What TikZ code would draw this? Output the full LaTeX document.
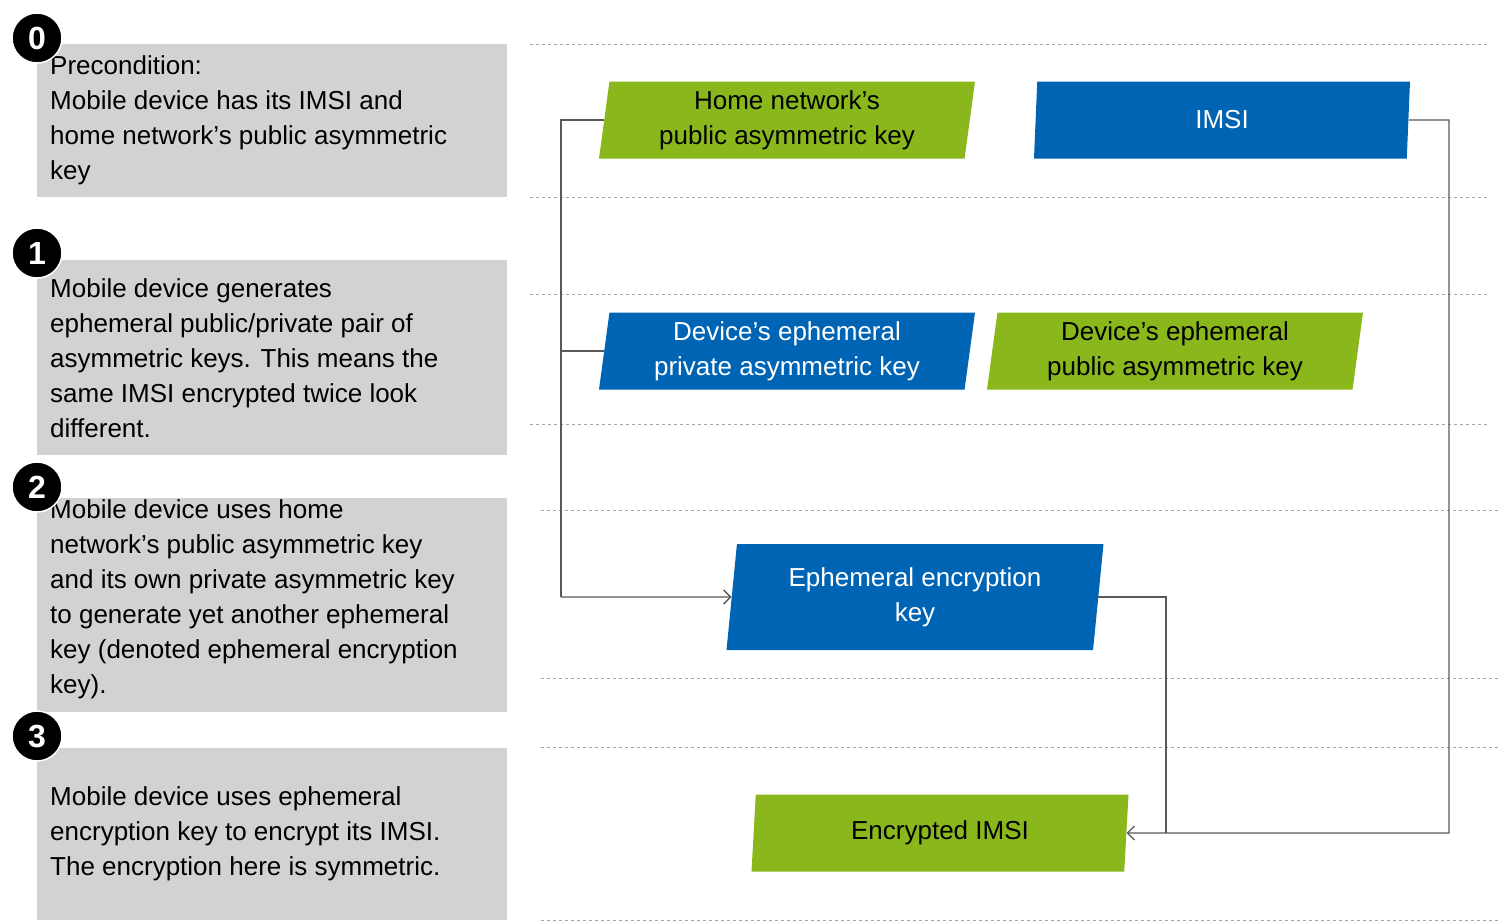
\documentclass[tikz,border=0pt]{standalone}
\usepackage{fontspec}
\setmainfont{Liberation Sans}
\usetikzlibrary{shapes.geometric,arrows.meta}
\definecolor{grn}{HTML}{8AB81C}
\definecolor{blu}{HTML}{0064B4}
\definecolor{stepbg}{HTML}{D1D2D4}
\begin{document}
\begin{tikzpicture}[x=1pt,y=-1pt,
  txt/.style={font=\fontsize{26}{35}\selectfont},
  stepbox/.style={fill=stepbg, draw=none},
  desc/.style={txt, anchor=west, align=left, inner sep=0pt},
  num/.style={circle, fill=black, draw=white, line width=1.5pt, minimum size=50pt, inner sep=0pt, text=white, font=\fontsize{32}{32}\selectfont\bfseries},
  para/.style={trapezium, trapezium left angle=80, trapezium right angle=100, trapezium stretches body, draw=none, txt, align=center, inner sep=0pt, minimum height=#1},
  gkey/.style={para=77pt, fill=grn, text=black},
  bkey/.style={para=77pt, fill=blu, text=white},
  sep/.style={dashed, gray!70, line width=1pt},
  conn/.style={draw=black!65, line width=1.3pt},
  arr/.style={conn, -{Straight Barb[length=7pt,width=14pt]}}
]
\useasboundingbox (0,0) rectangle (1503,921);
% separators
\foreach \y in {44,197,294,424} \draw[sep] (530,\y) -- (1490,\y);
\foreach \y in {510,678,747,920} \draw[sep] (541,\y) -- (1500,\y);
% steps
\fill[stepbox] (37,44) rectangle (507,197);
\fill[stepbox] (37,260) rectangle (507,455);
\fill[stepbox] (37,498) rectangle (507,712);
\fill[stepbox] (37,748) rectangle (507,920);
\node[desc] (d0) at (50,120) {Precondition:\\Mobile device has its IMSI and\\home network’s public asymmetric\\key};
\node[desc] (d1) at (50,358) {Mobile device generates\\ephemeral public/private pair of\\asymmetric keys. This means the\\same IMSI encrypted twice look\\different.};
\node[desc] (d2) at (50,599) {Mobile device uses home\\network’s public asymmetric key\\and its own private asymmetric key\\to generate yet another ephemeral\\key (denoted ephemeral encryption\\key).};
\node[desc] (d3) at (50,834) {Mobile device uses ephemeral\\encryption key to encrypt its IMSI.\\The encryption here is symmetric.};
\node[num] (n0) at (37,38) {0};
\node[num] (n1) at (37,253) {1};
\node[num] (n2) at (37,487) {2};
\node[num] (n3) at (37,736) {3};
% keys
\node[gkey, minimum width=376pt] (home) at (787,120) {Home network’s\\public asymmetric key};
\node[bkey, minimum width=376pt] (imsi) at (1222,120) {IMSI};
\node[bkey, minimum width=376pt] (priv) at (787,351) {Device’s ephemeral\\private asymmetric key};
\node[gkey, minimum width=376pt] (pub) at (1175,351) {Device’s ephemeral\\public asymmetric key};
\node[bkey, para=106pt, minimum width=377pt] (enc) at (915,597) {Ephemeral encryption\\key};
\node[gkey, minimum width=377pt] (eimsi) at (940,833) {Encrypted IMSI};
% connectors
\coordinate (jl) at (561,597);
\coordinate (jr) at (1166,833);
\coordinate (cr) at (1449,833);
\draw[conn] (home.west) -| (jl);
\draw[conn] (priv.west) -| (jl);
\draw[arr] (jl) -- (enc.west);
\draw[conn] (enc.east) -| (jr);
\draw[arr] (imsi.east) -| (cr) -- (eimsi.east);
\end{tikzpicture}
\end{document}
